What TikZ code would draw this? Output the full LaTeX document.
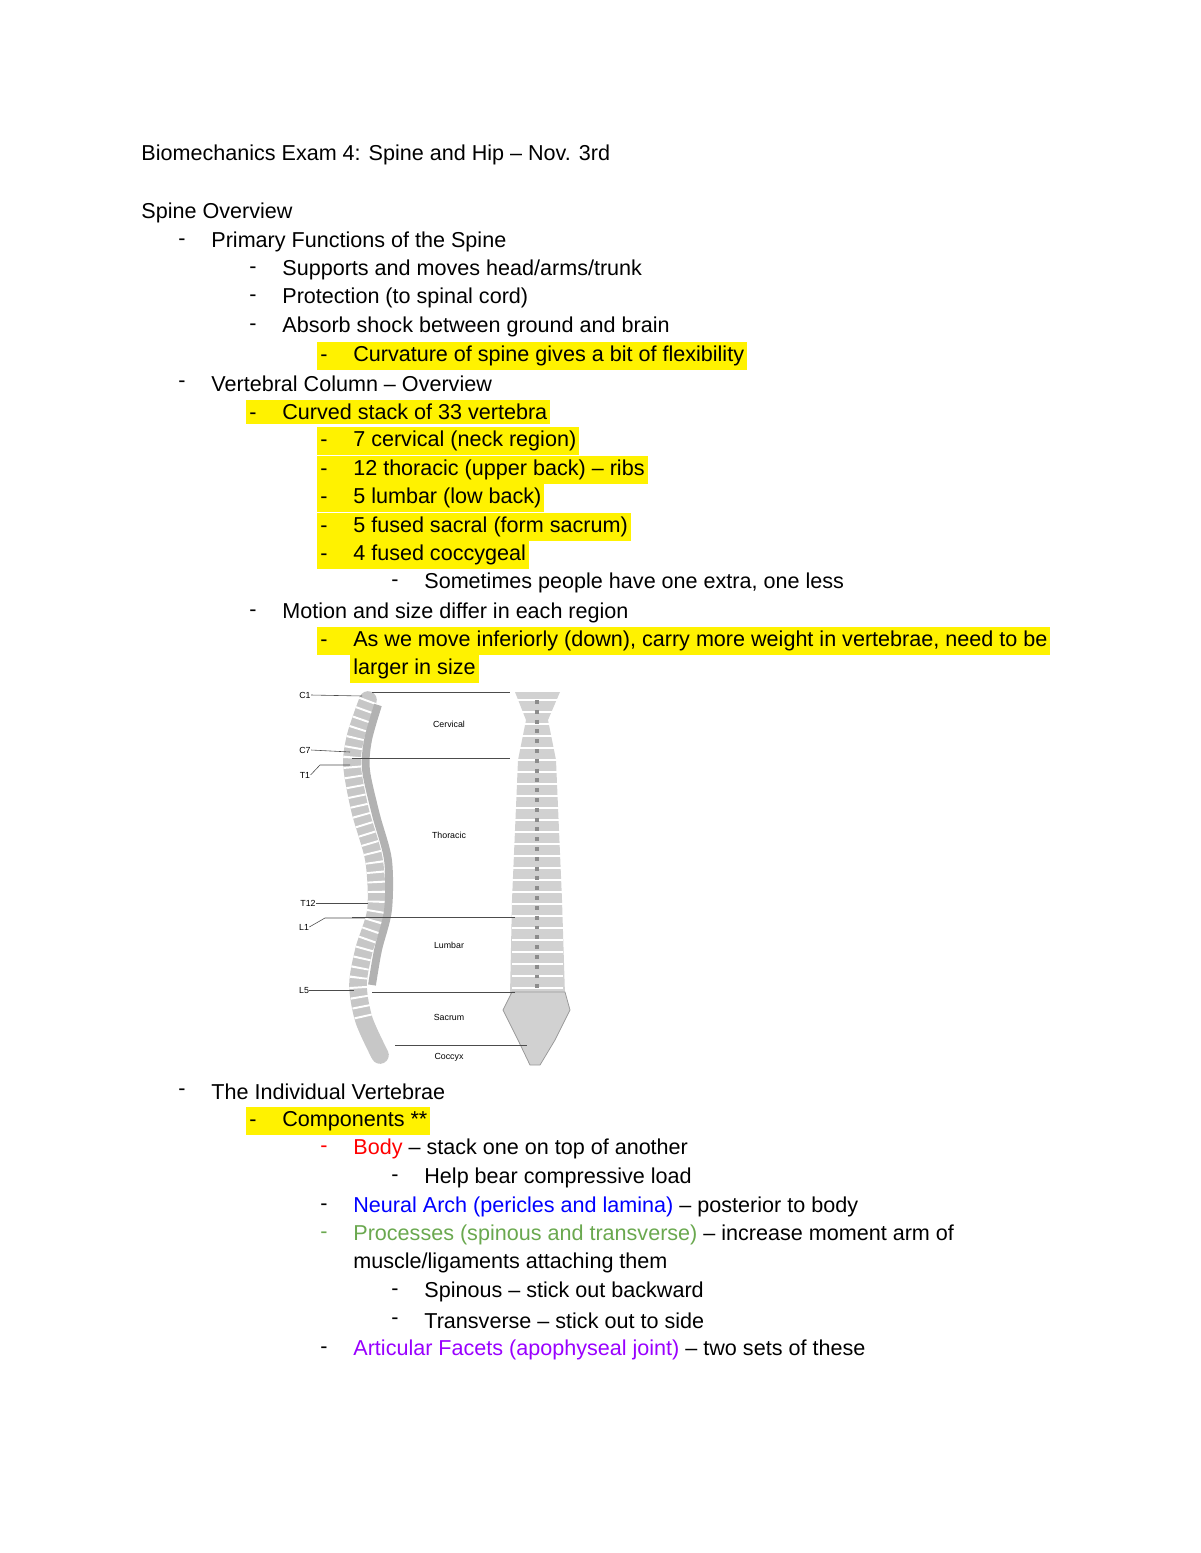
\documentclass[tikz,border=0pt]{standalone}
\usepackage{fontspec}
\setmainfont{Liberation Sans}
\begin{document}
\begin{tikzpicture}[x=0.51pt,y=-0.51pt,
  tx/.style={anchor=west,inner sep=0pt,yshift=-1pt,font=\fontsize{11}{13}\selectfont},
  hl/.style={anchor=west,inner xsep=1.5pt,inner ysep=2pt,yshift=-1pt,fill=yellow,font=\fontsize{11}{13}\selectfont},
  lab/.style={font=\fontsize{4.5}{5}\selectfont,inner sep=0pt},
  rule/.style={draw=black!70,line width=0.5pt}]
\useasboundingbox (0,0) rectangle (1200,1553);
\definecolor{rd}{HTML}{FF0000}\definecolor{bl}{HTML}{0000FF}
\definecolor{gr}{HTML}{6AA84F}\definecolor{pu}{HTML}{9900FF}
\newcommand{\dsh}[3]{\node[tx] at (#1,#2) {-}; \node[tx] at (#1+33,#2) {#3};}
\node[tx] (t) at (141,153) {Biomechanics Exam 4: Spine and Hip -- Nov. 3rd};
\node[tx] (so) at (141,211) {Spine Overview};
\dsh{178}{240}{Primary Functions of the Spine}
\dsh{249}{268}{Supports and moves head/arms/trunk}
\dsh{249}{296}{Protection (to spinal cord)}
\dsh{249}{325}{Absorb shock between ground and brain}
\node[hl] (h1) at (317,354) {\makebox[16.8pt][l]{-}Curvature of spine gives a bit of flexibility};
\dsh{178}{382}{Vertebral Column -- Overview}
\node[hl] (h2) at (246,410) {\makebox[16.8pt][l]{-}Curved stack of 33 vertebra};
\node[hl] (h3) at (317,439) {\makebox[16.8pt][l]{-}7 cervical (neck region)};
\node[hl] (h4) at (317,468) {\makebox[16.8pt][l]{-}12 thoracic (upper back) -- ribs};
\node[hl] (h5) at (317,496) {\makebox[16.8pt][l]{-}5 lumbar (low back)};
\node[hl] (h6) at (317,525) {\makebox[16.8pt][l]{-}5 fused sacral (form sacrum)};
\node[hl] (h7) at (317,553) {\makebox[16.8pt][l]{-}4 fused coccygeal};
\dsh{391}{581}{Sometimes people have one extra, one less}
\dsh{249}{611}{Motion and size differ in each region}
\node[hl] (h8) at (317,639) {\makebox[16.8pt][l]{-}As we move inferiorly (down), carry more weight in vertebrae, need to be};
\node[hl] (h9) at (350,667) {larger in size};
% spine figure, lateral
\draw[line width=9pt,black!22,line cap=round] plot[smooth] coordinates{(368,700)(356,735)(352,765)(360,810)(374,860)(376,910)(364,950)(358,985)(364,1020)(380,1055)};
\draw[line width=9pt,white,dash pattern=on 1pt off 4pt] plot[smooth] coordinates{(368,700)(356,735)(352,765)(360,810)(374,860)(376,910)(364,950)(358,985)(364,1020)};
\draw[line width=4pt,black!30] plot[smooth] coordinates{(378,705)(368,740)(366,770)(376,815)(388,860)(388,910)(378,950)(372,985)};
% front view
\fill[black!18] (515,692)--(560,692)--(548,720)--(556,760)--(562,900)--(565,995)--(510,995)--(512,900)--(518,760)--(526,720)--cycle;
\foreach \yy in {700,712,...,990} \draw[white,line width=1pt] (512,\yy)--(563,\yy);
\draw[line width=2.5pt,black!45,dash pattern=on 2pt off 3pt] (537,700)--(537,990);
\fill[black!18] (512,992)--(565,992)--(570,1010)--(555,1040)--(540,1065)--(530,1065)--(518,1040)--(503,1010)--cycle;
\draw[black!40] (512,992)--(565,992)--(570,1010)--(555,1040)--(540,1065)--(530,1065)--(518,1040)--(503,1010)--cycle;
\draw[rule] (372,692)--(510,692);
\draw[rule] (352,758)--(510,758);
\draw[rule] (352,917)--(515,917);
\draw[rule] (372,992)--(515,992);
\draw[rule] (395,1045)--(527,1045);
\node[lab] at (449,724) {Cervical};
\node[lab] at (449,835) {Thoracic};
\node[lab] at (449,945) {Lumbar};
\node[lab] at (449,1017) {Sacrum};
\node[lab] at (449,1057) {Coccyx};
\node[lab] (c1) at (305,695) {C1}; \draw[rule,line width=0.3pt] (c1.east)--(362,696);
\node[lab] (c7) at (305,750) {C7}; \draw[rule,line width=0.3pt] (c7.east)--(350,752);
\node[lab] (t1) at (305,775) {T1}; \draw[rule,line width=0.3pt] (t1.east)--(320,765)--(350,765);
\node[lab] (t12) at (308,903) {T12}; \draw[rule,line width=0.3pt] (t12.east)--(368,903);
\node[lab] (l1) at (304,927) {L1}; \draw[rule,line width=0.3pt] (l1.east)--(325,918)--(365,918);
\node[lab] (l5) at (304,990) {L5}; \draw[rule,line width=0.3pt] (l5.east)--(354,990);
% individual vertebrae
\dsh{178}{1090}{The Individual Vertebrae}
\node[hl] (h10) at (246,1119) {\makebox[16.8pt][l]{-}Components **};
\node[tx,text=rd] at (320,1147) {-};
\node[tx] at (353,1147) {\textcolor{rd}{Body} -- stack one on top of another};
\dsh{391}{1176}{Help bear compressive load}
\node[tx] at (320,1205) {-};
\node[tx] at (353,1205) {\textcolor{bl}{Neural Arch (pericles and lamina)} -- posterior to body};
\node[tx,text=gr] at (320,1233) {-};
\node[tx] at (353,1233) {\textcolor{gr}{Processes (spinous and transverse)} -- increase moment arm of};
\node[tx] at (353,1261) {muscle/ligaments attaching them};
\dsh{391}{1290}{Spinous -- stick out backward}
\dsh{391}{1319}{Transverse -- stick out to side}
\node[tx] at (320,1348) {-};
\node[tx] at (353,1348) {\textcolor{pu}{Articular Facets (apophyseal joint)} -- two sets of these};
\end{tikzpicture}
\end{document}
